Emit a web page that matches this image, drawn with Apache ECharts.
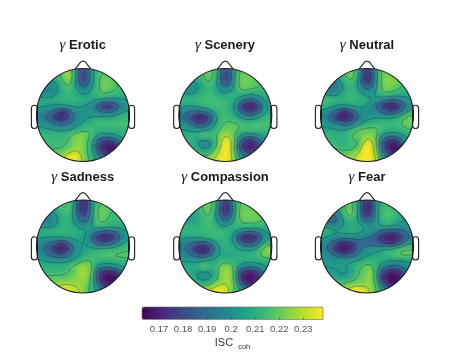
<!DOCTYPE html>
<html>
<head>
<meta charset="utf-8">
<script src="https://cdn.jsdelivr.net/npm/echarts@6/dist/echarts.min.js"></script>
<style>
    html, body { margin: 0; background: #fff; }
    #chart { width: 474px; height: 355px; position: relative; }
</style>
</head>
<body>
<div id="chart"></div>
<script>
// isc x 1000, 16 x 16 over the head, top row first
const eroticValues = [
    [211,211,211,214,219,226,211,183,181,201,214,214,214,214,214,214],
    [206,206,206,211,219,228,211,181,177,198,214,220,220,218,216,216],
    [201,201,201,204,214,220,209,185,183,201,214,221,222,218,216,216],
    [199,196,196,201,211,216,209,198,196,204,214,220,220,216,214,214],
    [202,200,200,204,210,213,211,206,204,209,214,217,215,213,211,209],
    [208,208,208,211,212,212,212,211,209,207,204,200,198,199,202,204],
    [206,205,204,203,203,205,206,205,203,198,185,174,171,181,193,200],
    [199,196,191,181,172,181,196,201,200,200,196,191,191,196,203,206],
    [198,192,183,172,170,178,193,199,202,205,207,208,208,209,212,214],
    [201,198,196,191,187,192,198,203,208,212,214,215,215,216,216,216],
    [208,206,204,202,202,203,206,211,215,214,211,211,212,212,211,211],
    [213,213,213,212,212,214,220,224,221,216,204,201,202,204,209,211],
    [214,214,214,214,214,216,223,226,220,209,187,177,177,183,196,206],
    [216,214,214,214,215,218,223,226,219,206,183,170,166,168,183,201],
    [218,218,218,220,220,228,232,228,219,209,191,175,170,172,183,196],
    [222,222,222,226,228,236,238,232,220,211,201,193,183,183,190,196]
];
const sceneryValues = [
    [214,214,214,214,218,220,211,185,181,201,218,218,218,218,218,218],
    [208,208,208,211,218,220,209,181,177,201,220,222,220,218,216,216],
    [203,202,202,206,214,216,206,185,183,203,220,223,220,218,216,216],
    [201,198,198,204,211,214,206,198,198,206,218,220,218,216,214,214],
    [206,204,205,209,213,214,210,206,208,210,210,206,204,206,210,212],
    [212,212,213,214,215,215,214,213,213,208,198,189,184,191,202,208],
    [206,204,205,209,212,214,215,215,212,204,183,170,168,175,196,206],
    [196,191,189,185,191,199,209,214,212,206,193,181,177,185,200,208],
    [194,185,175,169,170,183,204,214,214,211,206,201,200,204,210,214],
    [198,196,185,178,182,193,206,216,218,218,216,214,214,216,216,216],
    [204,203,201,201,201,205,212,219,220,220,216,215,215,215,214,214],
    [210,210,209,211,218,214,216,226,228,219,204,198,198,202,206,210],
    [214,212,209,202,200,203,213,232,238,220,191,177,172,183,198,206],
    [214,214,211,203,199,203,216,234,238,219,183,170,168,175,191,202],
    [216,216,216,213,210,214,226,236,238,220,196,181,177,183,191,198],
    [218,218,218,220,220,226,232,238,236,224,206,196,191,191,193,198]
];
const neutralValues = [
    [214,214,214,214,218,220,209,181,176,201,218,220,220,220,220,220],
    [204,204,204,210,218,220,206,176,172,198,220,223,222,220,218,218],
    [196,193,193,202,212,214,202,181,177,200,219,225,224,220,216,216],
    [196,191,191,199,209,212,204,193,191,202,218,222,220,216,212,212],
    [206,202,202,206,212,213,210,204,202,206,212,214,211,209,208,208],
    [218,214,212,212,213,213,212,210,206,201,196,189,187,191,198,204],
    [211,208,204,202,203,206,207,205,200,191,177,170,168,175,189,198],
    [200,196,189,177,172,183,196,200,199,198,191,183,181,189,200,210],
    [196,191,177,169,168,175,193,200,202,204,204,204,206,210,218,222],
    [202,200,196,189,187,191,200,206,210,212,213,214,214,215,220,222],
    [206,206,205,204,205,210,217,220,219,219,214,212,211,212,214,216],
    [212,212,211,210,212,219,220,222,224,220,204,198,196,200,206,210],
    [214,214,212,210,211,215,214,228,234,220,191,177,172,181,196,206],
    [216,216,215,213,212,213,216,236,238,222,189,172,165,168,185,200],
    [220,220,220,219,218,220,228,238,238,226,198,181,170,172,185,196],
    [224,224,224,224,226,228,234,238,238,230,206,193,185,185,191,196]
];
const sadnessValues = [
    [211,211,211,214,218,218,204,177,172,198,214,216,216,216,216,216],
    [206,206,206,210,216,216,202,175,172,198,218,220,218,216,214,214],
    [201,199,199,204,212,212,201,181,177,200,218,221,216,214,214,214],
    [199,196,196,202,210,211,202,191,187,201,218,219,215,213,212,212],
    [203,201,201,206,211,212,206,200,200,206,212,212,210,209,209,209],
    [211,211,212,213,213,212,211,209,206,199,191,185,185,191,198,204],
    [206,204,204,204,206,207,208,207,203,191,175,170,170,177,193,202],
    [198,193,189,181,175,185,198,204,204,198,185,183,185,193,202,208],
    [196,189,180,170,168,176,196,204,206,208,208,210,210,212,214,216],
    [200,196,191,185,183,190,198,204,210,213,215,217,218,218,218,218],
    [206,204,202,202,202,203,206,212,218,216,212,210,210,212,214,214],
    [211,211,211,211,211,213,220,226,226,218,202,196,196,199,204,208],
    [214,214,214,214,214,216,220,228,228,218,183,172,170,172,185,200],
    [218,218,218,218,218,220,222,226,226,214,183,168,164,164,175,193],
    [220,220,220,226,228,228,226,226,224,212,191,175,170,168,177,191],
    [228,228,228,232,236,236,232,228,220,211,201,191,183,181,183,191]
];
const compassionValues = [
    [214,214,214,214,218,220,206,181,176,201,218,218,220,220,220,220],
    [210,210,210,213,219,220,204,175,172,198,220,220,220,220,218,218],
    [206,205,205,210,216,217,202,181,177,200,220,222,222,220,218,218],
    [205,204,204,210,215,216,203,191,191,204,218,220,220,220,216,216],
    [210,210,210,212,214,215,210,203,206,213,214,213,212,212,212,210],
    [213,213,213,213,214,215,214,214,212,206,196,189,189,193,200,206],
    [206,205,205,206,209,212,213,213,210,200,177,170,168,177,193,204],
    [198,193,189,183,183,191,203,210,210,204,191,181,181,189,204,214],
    [194,188,176,170,168,177,198,209,210,209,206,204,204,208,220,226],
    [198,196,191,183,183,191,202,206,208,209,210,210,211,214,220,222],
    [204,203,203,204,206,207,209,212,213,211,209,208,208,209,210,211],
    [210,209,209,212,218,211,213,222,224,216,201,195,193,197,201,206],
    [212,210,206,202,200,202,212,226,228,216,181,172,170,175,190,201],
    [214,212,208,201,198,203,213,224,228,216,181,166,164,170,185,198],
    [216,216,214,212,212,215,226,228,228,218,193,177,172,177,185,196],
    [219,219,219,222,228,232,236,236,230,219,206,196,191,189,191,196]
];
const fearValues = [
    [211,211,211,214,218,218,204,177,172,198,210,212,212,212,212,212],
    [203,203,203,210,219,219,204,174,170,196,212,216,214,212,210,210],
    [191,191,191,204,218,220,203,177,175,198,212,217,216,210,208,208],
    [191,186,186,198,210,212,203,191,187,199,210,215,213,206,204,204],
    [203,201,198,202,207,209,208,204,202,203,206,208,206,202,200,200],
    [211,210,206,208,209,209,207,205,202,196,185,181,181,183,191,198],
    [206,203,200,196,196,197,197,193,190,183,172,168,167,172,183,191],
    [198,191,183,172,170,175,185,187,187,185,181,175,175,185,198,204],
    [196,189,175,167,166,172,187,196,200,202,204,208,210,214,218,218],
    [200,198,193,185,183,187,196,202,204,206,210,213,215,218,219,218],
    [203,203,202,202,203,205,206,208,214,212,208,206,204,203,204,206],
    [204,204,204,204,204,207,214,220,220,212,198,191,187,191,196,201],
    [205,205,204,203,203,206,216,220,226,212,183,172,168,172,185,196],
    [209,209,208,206,206,210,218,220,226,212,177,166,162,166,177,193],
    [214,214,214,216,220,222,224,224,226,216,191,175,168,170,181,191],
    [220,220,220,226,230,236,238,234,228,218,204,193,183,181,183,191]
];
const panelNames = ['Erotic', 'Scenery', 'Neutral', 'Sadness', 'Compassion', 'Fear'];
const panelValues = [eroticValues, sceneryValues, neutralValues, sadnessValues, compassionValues, fearValues];
const contourLevels = [180, 192, 204, 216, 228];
const tickValues = [0.17, 0.18, 0.19, 0.2, 0.21, 0.22, 0.23];
const colorMin = 0.1629;
const colorMax = 0.2382;
const viridis = ['#440154', '#482878', '#3e4989', '#31688e', '#26828e', '#1f9e89', '#35b779', '#6ece58', '#b5de2b', '#fde725'];

const headX = [83, 225.3, 367, 83, 225.3, 367];
const headY = [115, 115, 115, 246.5, 246.5, 246.5];
const titleX = [82.7, 225, 367, 82.7, 225, 367];
const titleY = [47, 47, 47, 178.5, 178.5, 178.5];
const headR = 46.5;
const nCells = 16;
const pad = 1;
const cell = 2 * headR / nCells;
const sub = 3;

function clampIdx(i) {
    return Math.max(0, Math.min(nCells - 1, i));
}

// value at a cell, the ring round the head repeats the nearest edge cell
function cellValue(rows, i, j) {
    return rows[clampIdx(j)][clampIdx(i)];
}

// contour lines only: smooth the read cells the way the blurred layer shows them
function bspline(t) {
    const s = 1 - t;
    return [s * s * s / 6, (3 * t * t * t - 6 * t * t + 4) / 6, (-3 * t * t * t + 3 * t * t + 3 * t + 1) / 6, t * t * t / 6];
}

function smoothField(rows, x, y) {
    const ix = Math.floor(x), iy = Math.floor(y);
    const wx = bspline(x - ix), wy = bspline(y - iy);
    let sum = 0;
    for (let b = 0; b < 4; b++) {
        for (let a = 0; a < 4; a++) {
            sum += wx[a] * wy[b] * cellValue(rows, ix + a - 1, iy + b - 1);
        }
    }
    return sum;
}

function contourSegments(rows, level) {
    const pts = [];
    const lerp = (a, b) => (level - a) / (b - a);
    const n = (nCells + 1) * sub;
    const f = (i, j) => smoothField(rows, -0.5 + i / sub, -0.5 + j / sub);
    const px = i => -0.5 + i / sub, py = j => -0.5 + j / sub;
    for (let j = 0; j < n; j++) {
        for (let i = 0; i < n; i++) {
            const a = f(i, j), b = f(i + 1, j), c = f(i + 1, j + 1), d = f(i, j + 1);
            const cross = [];
            if ((a < level) !== (b < level)) cross.push([px(i + lerp(a, b)), py(j)]);
            if ((b < level) !== (c < level)) cross.push([px(i + 1), py(j + lerp(b, c))]);
            if ((c < level) !== (d < level)) cross.push([px(i + 1 - lerp(c, d)), py(j + 1)]);
            if ((d < level) !== (a < level)) cross.push([px(i), py(j + 1 - lerp(d, a))]);
            if (cross.length >= 2) pts.push(cross[0], cross[1], ['-', '-']);
            if (cross.length === 4) pts.push(cross[2], cross[3], ['-', '-']);
        }
    }
    return pts;
}

function renderHead(params, api) {
    const c = api.coord([api.value(0), api.value(1)]);
    const r = api.size([nCells / 2, 0])[0];
    const style = { fill: 'none', stroke: '#1c1c1c', lineWidth: 1.1 };
    const x = c[0], y = c[1];
    return {
        type: 'group',
        children: [
            { type: 'circle', shape: { cx: x, cy: y, r: r }, style: style },
            {
                type: 'polyline',
                shape: {
                    points: [[x - 0.17 * r, y - 0.985 * r], [x - 0.05 * r, y - 1.14 * r], [x, y - 1.16 * r], [x + 0.05 * r, y - 1.14 * r], [x + 0.17 * r, y - 0.985 * r]]
                },
                style: style
            },
            { type: 'rect', shape: { x: x - 1.11 * r, y: y - 0.21 * r, width: 0.13 * r, height: 0.5 * r, r: 3 }, style: style },
            { type: 'rect', shape: { x: x + 0.98 * r, y: y - 0.21 * r, width: 0.13 * r, height: 0.5 * r, r: 3 }, style: style }
        ]
    };
}

const grids = [], xAxes = [], yAxes = [], series = [], titles = [];
const bandData = [];
for (let i = -pad; i < nCells + pad; i++) bandData.push(String(i));
const gridSize = (nCells + 2 * pad) * cell;

panelNames.forEach((name, p) => {
    grids.push({ left: headX[p] - gridSize / 2, top: headY[p] - gridSize / 2, width: gridSize, height: gridSize });
    xAxes.push({ type: 'category', gridIndex: p, data: bandData, show: false });
    yAxes.push({ type: 'category', gridIndex: p, data: bandData, inverse: true, show: false });
    xAxes.push({ type: 'value', gridIndex: p, min: -pad - 0.5, max: nCells + pad - 0.5, show: false });
    yAxes.push({ type: 'value', gridIndex: p, min: -pad - 0.5, max: nCells + pad - 0.5, inverse: true, show: false });
    titles.push({
        text: '{g|γ} ' + name,
        left: titleX[p],
        top: titleY[p] - 9,
        textAlign: 'center',
        padding: 0,
        zlevel: 2,
        textStyle: {
            fontFamily: 'Liberation Sans',
            fontWeight: 'bold',
            fontSize: 13,
            color: '#1a1a1a',
            rich: {
                g: { fontFamily: 'Liberation Serif', fontStyle: 'italic', fontWeight: 'normal', fontSize: 15, color: '#1a1a1a' }
            }
        }
    });
});

// heat cells first so the visualMap can point at 0..5
panelNames.forEach((name, p) => {
    const cells = [];
    for (let j = -pad; j < nCells + pad; j++) {
        for (let i = -pad; i < nCells + pad; i++) {
            const v = cellValue(panelValues[p], i, j) / 1000;
            cells.push([i + pad, j + pad, Math.max(colorMin, Math.min(colorMax, v))]);
        }
    }
    series.push({
        type: 'heatmap',
        name: name,
        xAxisIndex: p * 2,
        yAxisIndex: p * 2,
        data: cells,
        silent: true,
        zlevel: 0
    });
});
panelNames.forEach((name, p) => {
    let lines = [];
    contourLevels.forEach(level => {
        lines = lines.concat(contourSegments(panelValues[p], level));
    });
    series.push({
        type: 'line',
        xAxisIndex: p * 2 + 1,
        yAxisIndex: p * 2 + 1,
        data: lines,
        showSymbol: false,
        silent: true,
        lineStyle: { color: '#12303a', width: 0.6, opacity: 0.6 },
        zlevel: 1
    });
    series.push({
        type: 'custom',
        xAxisIndex: p * 2 + 1,
        yAxisIndex: p * 2 + 1,
        data: [[(nCells - 1) / 2, (nCells - 1) / 2]],
        renderItem: renderHead,
        clip: false,
        silent: true,
        zlevel: 2
    });
});

// colour bar axis
grids.push({ left: 142, top: 307, width: 181, height: 12.5, show: true, borderColor: '#666', borderWidth: 0.6, backgroundColor: 'transparent', zlevel: 3 });
xAxes.push({
    type: 'value',
    gridIndex: 6,
    min: colorMin,
    max: colorMax,
    zlevel: 3,
    axisLine: { show: false },
    splitLine: { show: false },
    axisTick: { inside: true, length: 2, lineStyle: { color: '#444', width: 0.6 }, customValues: tickValues },
    axisLabel: { color: '#555', fontFamily: 'Liberation Sans', fontSize: 9.5, margin: 5, customValues: tickValues, formatter: v => String(v) },
    name: 'ISC {s|coh}',
    nameLocation: 'center',
    nameGap: 16,
    nameTextStyle: {
        color: '#333',
        fontFamily: 'Liberation Sans',
        fontSize: 11,
        rich: { s: { fontSize: 7.5, color: '#333', fontFamily: 'Liberation Sans', padding: [7, 0, 0, 2] } }
    }
});
yAxes.push({ type: 'value', gridIndex: 6, show: false });

const heads = headX.map((x, p) =>
    `M${x - headR} ${headY[p]}a${headR} ${headR} 0 1 0 ${2 * headR} 0a${headR} ${headR} 0 1 0 ${-2 * headR} 0Z`
).join('');
const css = document.createElement('style');
css.textContent =
    `canvas[data-zr-dom-id="zr_0"]{filter:blur(2.2px);clip-path:path("${heads}");}` +
    `canvas[data-zr-dom-id="zr_1"]{clip-path:path("${heads}");}`;
document.head.appendChild(css);

const chart = echarts.init(document.getElementById('chart'), null, { renderer: 'canvas' });
chart.setOption({
    backgroundColor: 'transparent',
    animation: false,
    title: titles,
    grid: grids,
    xAxis: xAxes,
    yAxis: yAxes,
    visualMap: {
        type: 'continuous',
        seriesIndex: [0, 1, 2, 3, 4, 5],
        min: colorMin,
        max: colorMax,
        orient: 'horizontal',
        left: 142,
        top: 307,
        padding: 0,
        itemWidth: 12.5,
        itemHeight: 181,
        calculable: false,
        hoverLink: false,
        showLabel: false,
        text: null,
        zlevel: 2,
        inRange: { color: viridis }
    },
    series: series
});
</script>
</body>
</html>
